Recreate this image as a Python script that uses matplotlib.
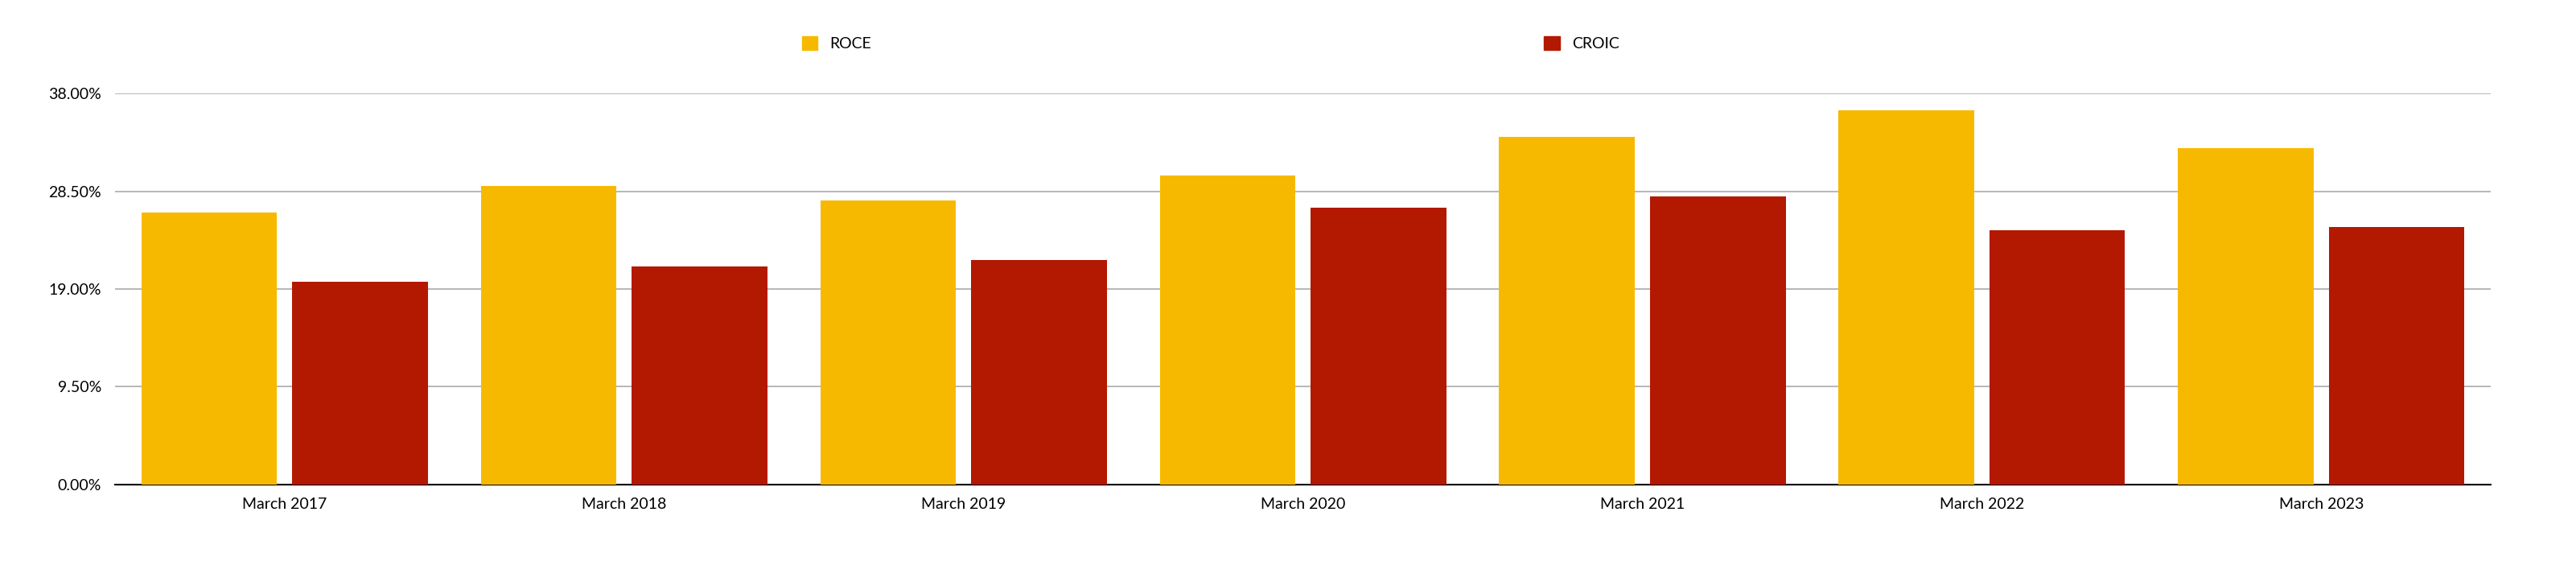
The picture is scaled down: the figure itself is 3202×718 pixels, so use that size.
import matplotlib.pyplot as plt
import numpy as np
from matplotlib.patches import Patch

plt.rcParams['font.family'] = ['Lato', 'DejaVu Sans']

years = ["March 2017", "March 2018", "March 2019", "March 2020",
         "March 2021", "March 2022", "March 2023"]
roce = [26.4, 29.0, 27.6, 30.0, 33.8, 36.4, 32.7]
croic = [19.7, 21.2, 21.8, 26.9, 28.0, 24.7, 25.0]
ticks = [0, 9.5, 19, 28.5, 38]

fig = plt.figure(figsize=(32.02, 7.18), dpi=100)
ax = fig.add_axes([0.0446, 0.162, 0.9224, 0.676])

x = np.arange(len(years))
ax.bar(x - 0.222, roce, width=0.4, color="#F7B900", zorder=3)
ax.bar(x + 0.222, croic, width=0.4, color="#B31800", zorder=3)

ax.set_xlim(-0.5, len(years) - 0.5)
ax.set_ylim(0, 38)
ax.set_yticks(ticks)
ax.set_yticklabels([f"{t:.2f}%" for t in ticks])
ax.set_xticks(x)
ax.set_xticklabels(years)
ax.tick_params(axis="both", length=0, labelsize=14, pad=12)
ax.grid(axis="y", color="#aaaaaa", linewidth=1.2, zorder=0)
for s in ["left", "right", "top"]:
    ax.spines[s].set_visible(False)
ax.spines["bottom"].set_color("black")
ax.spines["bottom"].set_linewidth(1.5)

handles = [Patch(color="#F7B900", label="ROCE"), Patch(color="#B31800", label="CROIC")]
fig.legend(handles=handles, loc="center", bbox_to_anchor=(0.47, 0.925), ncol=2,
           frameon=False, fontsize=14, handlelength=1, handleheight=1,
           columnspacing=43)

fig.savefig("out.png", dpi=100)
